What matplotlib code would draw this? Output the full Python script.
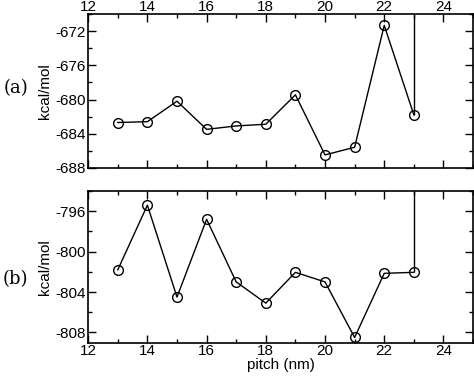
import numpy as np
import matplotlib
matplotlib.use("Agg")
import matplotlib.pyplot as plt
from matplotlib.ticker import MultipleLocator

# data
pitch = [13, 14, 15, 16, 17, 18, 19, 20, 21, 22, 23]
energy_a = [-682.7, -682.6, -680.2, -683.5, -683.1, -682.9, -679.45, -686.5, -685.6, -671.3, -681.8]
energy_b = [-801.8, -795.4, -804.5, -796.8, -803.0, -805.1, -802.05, -803.0, -808.5, -802.15, -802.05]
yticks_a = [-688, -684, -680, -676, -672]
yticks_b = [-808, -804, -800, -796]
xticks = [12, 14, 16, 18, 20, 22, 24]

plt.rcParams['font.family'] = ['Liberation Sans', 'DejaVu Sans']
plt.rcParams['axes.unicode_minus'] = False

fig = plt.figure(figsize=(4.74, 3.76), dpi=100)
ax_a = fig.add_axes([0.186, 0.554, 0.812, 0.408])
ax_b = fig.add_axes([0.186, 0.089, 0.812, 0.403])

def style(ax, yticks, ylim, ystep):
    ax.set_xlim(12, 25)
    ax.set_ylim(*ylim)
    ax.set_xticks(xticks)
    ax.set_yticks(yticks)
    ax.xaxis.set_minor_locator(MultipleLocator(1))
    ax.yaxis.set_minor_locator(MultipleLocator(ystep))
    ax.tick_params(which='both', direction='in', top=True, right=True, width=1)
    ax.tick_params(which='major', length=6, labelsize=11, pad=2)
    ax.tick_params(which='minor', length=3)
    for s in ax.spines.values():
        s.set_linewidth(1.2)
    ax.set_ylabel("kcal/mol", fontsize=11, labelpad=2)

def draw(ax, y):
    ax.plot(pitch, y, color='black', lw=1, marker='o', ms=7, mfc='none', mec='black', mew=1)
    ax.vlines(pitch[-1], y[-1], ax.get_ylim()[1], color='black', lw=1)

style(ax_a, yticks_a, (-688, -670), 2)
draw(ax_a, energy_a)
ax_a.tick_params(axis='x', labeltop=True, labelbottom=False, pad=0.5)

style(ax_b, yticks_b, (-809, -794), 2)
draw(ax_b, energy_b)
ax_b.tick_params(axis='x', pad=1)
ax_b.set_xlabel("pitch (nm)", fontsize=11, labelpad=0)

fig.text(0.033, 0.765, "(a)", family='DejaVu Serif', fontsize=13, ha='center', va='center')
fig.text(0.033, 0.258, "(b)", family='DejaVu Serif', fontsize=13, ha='center', va='center')

fig.savefig("out.png", dpi=100)
